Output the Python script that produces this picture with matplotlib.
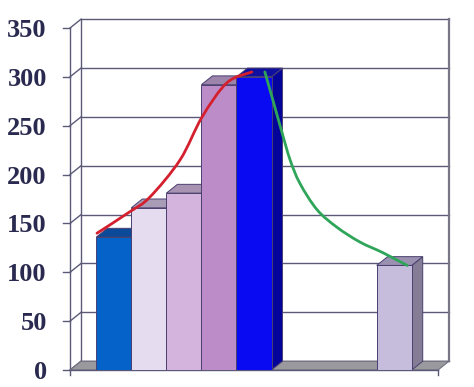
import numpy as np
import matplotlib.pyplot as plt
from matplotlib.patches import Polygon, PathPatch
from matplotlib.path import Path

# %%
# данные
values = [136, 166, 181, 292, 300, None, None, None, 107]
front_colors = ['#0462c8', '#e6dcf0', '#d4b4dc', '#bc8cc8', '#0a0af2', None, None, None, '#c6bcdc']
top_colors = ['#0a4a98', '#a89cb6', '#a894b2', '#9c84aa', '#1010a0', None, None, None, '#9a90b0']
side_colors = ['#0a3c80', '#9a8cac', '#9a86a6', '#8c74a0', '#04049a', None, None, None, '#857d96']
y_ticks = [0, 50, 100, 150, 200, 250, 300, 350]

red_x = [-0.48, 0.46, 1.03, 1.89, 2.52, 3.23, 3.94]
red_y = [140, 162, 177, 215, 259, 294, 305]
green_x = [4.31, 4.54, 4.80, 5.03, 5.31, 5.80, 6.37, 7.02, 7.68, 8.37]
green_y = [305, 276, 243, 215, 191, 164, 146, 131, 120, 107]


# %%
def smooth_path(xs, ys):
    # гладкая кривая через точки (Catmull-Rom -> кубические Безье)
    p = np.column_stack([xs, ys]).astype(float)
    p = np.vstack([p[0], p, p[-1]])
    verts = [p[1]]
    codes = [Path.MOVETO]
    for i in range(1, len(p) - 2):
        c1 = p[i] + (p[i + 1] - p[i - 1]) / 6
        c2 = p[i + 1] - (p[i + 2] - p[i]) / 6
        verts += [c1, c2, p[i + 1]]
        codes += [Path.CURVE4] * 3
    return Path(verts, codes)


dx, dy = 0.314, 9.0       # смещение "глубины"
x0, x1 = -1.25, 9.25
line_c = '#5a5a78'

fig = plt.figure(figsize=(4.74, 3.87), dpi=100)
ax = fig.add_axes([70 / 474, 17 / 387, 368 / 474, 342 / 387])
ax.set_xlim(x0, x1)
ax.set_ylim(0, 350)
ax.axis('off')

# задняя стенка
for v in y_ticks:
    ax.plot([x0 + dx, x1 + dx], [v + dy, v + dy], color=line_c, lw=1.0, clip_on=False, zorder=1)
    ax.plot([x0, x0 + dx], [v, v + dy], color=line_c, lw=1.0, clip_on=False, zorder=1)
    ax.plot([x0 - 0.2, x0], [v, v], color=line_c, lw=1.0, clip_on=False, zorder=1)
    ax.text(x0 - 0.66, v, str(v), ha='right', va='center_baseline', fontsize=19,
            fontweight='bold', family='Liberation Serif', color='#2a2a50')
ax.plot([x0 + dx, x0 + dx], [dy, 350 + dy], color=line_c, lw=1.0, clip_on=False, zorder=1)
ax.plot([x1 + dx, x1 + dx], [dy, 350 + dy], color='#777788', lw=1.6, clip_on=False, zorder=1)
ax.plot([x0, x0], [-5, 350], color=line_c, lw=1.0, clip_on=False, zorder=1)

# пол
floor = Polygon([(x0, 0), (x1, 0), (x1 + dx, dy), (x0 + dx, dy)], closed=True,
                facecolor='#9a9a9e', edgecolor='#707080', lw=0.8, clip_on=False, zorder=2)
ax.add_patch(floor)
ax.plot([x0, x1], [0, 0], color=line_c, lw=1.0, clip_on=False, zorder=2)
ax.plot([x1, x1], [-5, 0], color=line_c, lw=1.0, clip_on=False, zorder=2)

# столбцы
w = 0.5
for i, v in enumerate(values):
    if v is None:
        continue
    l, r = i - w, i + w
    front = Polygon([(l, 0), (r, 0), (r, v), (l, v)], closed=True,
                    facecolor=front_colors[i], edgecolor='#4a4070', lw=0.7, zorder=3)
    top = Polygon([(l, v), (r, v), (r + dx, v + dy), (l + dx, v + dy)], closed=True,
                  facecolor=top_colors[i], edgecolor='#4a4070', lw=0.7, zorder=3)
    side = Polygon([(r, 0), (r + dx, dy), (r + dx, v + dy), (r, v)], closed=True,
                   facecolor=side_colors[i], edgecolor='#4a4070', lw=0.7, zorder=3)
    for p in (side, top, front):
        ax.add_patch(p)

# кривые
ax.add_patch(PathPatch(smooth_path(red_x, red_y), facecolor='none', edgecolor='#d4202e',
                       lw=2.0, capstyle='round', zorder=5))
ax.add_patch(PathPatch(smooth_path(green_x, green_y), facecolor='none', edgecolor='#2fa55a',
                       lw=2.0, capstyle='round', zorder=5))

fig.savefig('out.png', dpi=100, facecolor='white')
